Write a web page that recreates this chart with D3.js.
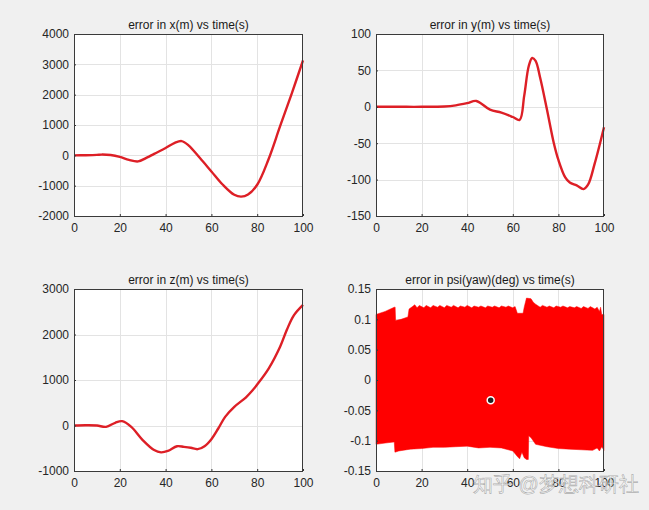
<!DOCTYPE html>
<html>
<head>
<meta charset="utf-8">
<script src="https://cdn.jsdelivr.net/npm/d3@7"></script>
<style>
  html, body { margin: 0; padding: 0; background: #f0f0f0; }
  text { font-family: "Liberation Sans", Arial, Helvetica, sans-serif; }
</style>
</head>
<body>
<svg id="chart" width="649" height="510"></svg>
<script>
// ---------- DATA ----------
const xTime = [0, 5, 10, 12, 16, 20, 24, 28, 32, 35, 40, 44, 47, 50, 55, 60, 65, 70, 73, 76, 80, 85, 90, 95, 100];
const xErr  = [0, 5, 15, 25, 10, -50, -150, -200, -70, 50, 240, 410, 470, 330, -90, -530, -970, -1300, -1360, -1290, -970, -120, 960, 2020, 3130];

const yTime = [0, 10, 20, 30, 35, 40, 44, 50, 55, 60, 63, 65, 67, 68.5, 70, 72, 75, 78, 80, 83, 85, 88, 91, 93, 96, 100];
const yErr  = [0, 0, 0, 0.5, 2, 5, 8, -4, -8, -14, -18, 15, 56, 67, 63, 40, -4, -50, -73, -97, -104, -108, -113, -107, -77, -28];

const zTime = [0, 5, 10, 14, 18, 21, 25, 30, 35, 38, 41, 45, 48, 51, 54, 57, 60, 63, 66, 70, 75, 78, 80, 85, 90, 93, 96, 100];
const zErr  = [0, 5, 0, -30, 60, 95, -30, -320, -540, -590, -560, -455, -470, -490, -520, -455, -300, -66, 190, 410, 615, 775, 900, 1250, 1730, 2110, 2420, 2650];

// psi: dense oscillation, drawn as the band between its read-off envelopes
const psiUpT = [0, 4, 8, 8.4, 8.6, 11, 14, 14.5, 16, 17, 18, 19, 21, 22, 24, 25, 27, 28, 30, 31, 33, 34, 36, 37, 39, 40, 42, 43, 45, 46, 48, 49, 51, 52, 54, 55, 57, 58, 60, 61, 62, 64.5, 65, 66, 68, 69, 70, 72, 73, 75, 76, 78, 79, 81, 82, 84, 85, 87, 88, 90, 91, 93, 94, 96, 97, 98, 98.5, 99, 100];
const psiUp  = [0.108, 0.113, 0.120, 0.120, 0.098, 0.100, 0.104, 0.117, 0.121, 0.124, 0.119, 0.123, 0.119, 0.123, 0.119, 0.123, 0.120, 0.123, 0.119, 0.123, 0.120, 0.123, 0.119, 0.122, 0.120, 0.123, 0.119, 0.122, 0.120, 0.122, 0.119, 0.122, 0.120, 0.122, 0.119, 0.122, 0.120, 0.122, 0.119, 0.121, 0.110, 0.110, 0.120, 0.135, 0.134, 0.128, 0.125, 0.120, 0.123, 0.120, 0.122, 0.119, 0.122, 0.120, 0.122, 0.119, 0.121, 0.119, 0.121, 0.118, 0.121, 0.118, 0.121, 0.117, 0.120, 0.113, 0.120, 0.108, 0.108];
const psiLoT = [0, 4, 8, 8.3, 10, 15, 20, 25, 30, 35, 40, 45, 50, 55, 58, 60, 62, 63, 64, 65, 66, 66.8, 67, 68, 70, 75, 80, 85, 90, 95, 97, 98, 99, 100];
const psiLo  = [-0.106, -0.104, -0.102, -0.119, -0.117, -0.114, -0.113, -0.111, -0.111, -0.110, -0.109, -0.112, -0.111, -0.112, -0.115, -0.117, -0.126, -0.130, -0.119, -0.128, -0.131, -0.131, -0.092, -0.095, -0.106, -0.110, -0.113, -0.114, -0.115, -0.116, -0.112, -0.117, -0.110, -0.116];
const psiMarker = [{t: 50.3, v: -0.0335}];

const xTicks = [0, 20, 40, 60, 80, 100];
const ticksX = [-2000, -1000, 0, 1000, 2000, 3000, 4000];
const ticksY = [-150, -100, -50, 0, 50, 100];
const ticksZ = [-1000, 0, 1000, 2000, 3000];
const ticksPsi = [-0.15, -0.1, -0.05, 0, 0.05, 0.1, 0.15];

const titles = ["error in x(m) vs time(s)", "error in y(m) vs time(s)", "error in z(m) vs time(s)", "error in psi(yaw)(deg) vs time(s)"];
const watermark = "知乎 @梦想科研社";

// ---------- DRAW ----------
const svg = d3.select("#chart");
svg.append("rect").attr("width", 649).attr("height", 510).attr("fill", "#f0f0f0");

const panels = [
  {box: [74, 303, 34, 216], dom: [-2000, 4000], ticks: ticksX, title: titles[0]},
  {box: [376, 604, 34, 216], dom: [-150, 100], ticks: ticksY, title: titles[1]},
  {box: [74, 303, 289, 471], dom: [-1000, 3000], ticks: ticksZ, title: titles[2]},
  {box: [376, 604, 289, 471], dom: [-0.15, 0.15], ticks: ticksPsi, title: titles[3]}
];

function makePanel(p) {
  const [l, r, t, b] = p.box;
  const x = d3.scaleLinear().domain([0, 100]).range([l, r]);
  const y = d3.scaleLinear().domain(p.dom).range([b, t]);
  const g = svg.append("g");
  g.append("rect").attr("x", l).attr("y", t).attr("width", r - l).attr("height", b - t).attr("fill", "#ffffff");
  // grid
  const grid = g.append("g").attr("stroke", "#e3e3e3").attr("stroke-width", 1);
  xTicks.slice(1, -1).forEach(v => grid.append("line").attr("x1", Math.round(x(v)) + 0.5).attr("x2", Math.round(x(v)) + 0.5).attr("y1", t).attr("y2", b));
  p.ticks.slice(1, -1).forEach(v => grid.append("line").attr("y1", Math.round(y(v)) + 0.5).attr("y2", Math.round(y(v)) + 0.5).attr("x1", l).attr("x2", r));
  const plot = g.append("g");
  // axes
  const fmt = d => String(+d.toFixed(4));
  const ax = g.append("g").attr("transform", `translate(0,${b})`)
    .call(d3.axisBottom(x).tickValues(xTicks).tickSizeInner(-2).tickSizeOuter(0).tickPadding(6).tickFormat(fmt));
  const ay = g.append("g").attr("transform", `translate(${l},0)`)
    .call(d3.axisLeft(y).tickValues(p.ticks).tickSizeInner(-2).tickSizeOuter(0).tickPadding(5).tickFormat(fmt));
  [ax, ay].forEach(a => {
    a.select(".domain").remove();
    a.selectAll("line").attr("stroke", "#333");
    a.selectAll("text").attr("font-size", 12).attr("fill", "#262626");
  });
  ax.selectAll("text").attr("dy", "0.85em");
  g.append("rect").attr("x", l + 0.5).attr("y", t + 0.5).attr("width", r - l - 1).attr("height", b - t)
    .attr("fill", "none").attr("stroke", "#3a3a3a").attr("stroke-width", 1);
  g.append("text").attr("x", (l + r) / 2).attr("y", t - 5).attr("text-anchor", "middle")
    .attr("font-size", 12).attr("fill", "#1a1a1a").text(p.title);
  return {x, y, plot};
}

const red = "#dd1f26";
function drawLine(pn, ts, vs) {
  const data = ts.map((t, i) => ({t, v: vs[i]}));
  pn.plot.append("path").datum(data)
    .attr("d", d3.line().x(d => pn.x(d.t)).y(d => pn.y(d.v)).curve(d3.curveCatmullRom.alpha(0.5)))
    .attr("fill", "none").attr("stroke", red).attr("stroke-width", 2.4).attr("stroke-linejoin", "round");
}

const P = panels.map(makePanel);
drawLine(P[0], xTime, xErr);
drawLine(P[1], yTime, yErr);
drawLine(P[2], zTime, zErr);

// psi band
const pp = P[3];
const upPts = psiUpT.map((t, i) => [pp.x(t), pp.y(psiUp[i])]);
const loPts = psiLoT.map((t, i) => [pp.x(t), pp.y(psiLo[i])]).reverse();
pp.plot.append("path").attr("d", d3.line()(upPts.concat(loPts)) + "Z").attr("fill", "#ff0000").attr("stroke", "#ff0000").attr("stroke-width", 0.5);
pp.plot.selectAll("circle.m").data(psiMarker).join("circle")
  .attr("cx", d => pp.x(d.t)).attr("cy", d => pp.y(d.v)).attr("r", 3.5)
  .attr("fill", "#222").attr("stroke", "#ffffff").attr("stroke-width", 1.5);

// watermark (overlaps the tick labels, as in the reference)
svg.append("text").attr("x", 473).attr("y", 491).attr("font-size", 20)
  .attr("font-family", "'Noto Sans CJK SC', sans-serif")
  .attr("fill", "#ffffff").attr("fill-opacity", 0.8).attr("stroke", "#8a8a8a").attr("stroke-width", 0.6).attr("stroke-opacity", 0.7)
  .text(watermark);
</script>
</body>
</html>
